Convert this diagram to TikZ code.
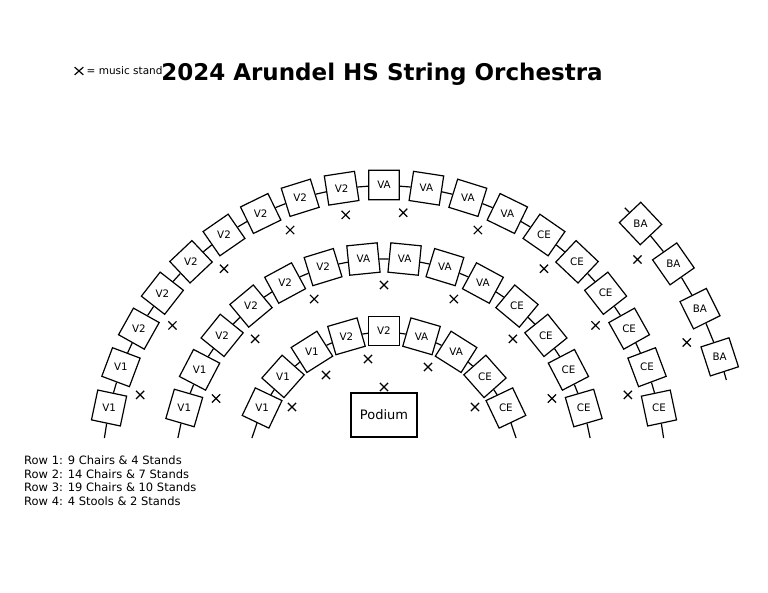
\documentclass[tikz,border=0pt]{standalone}
\usepackage{fontspec}
\setmainfont{DejaVu Sans}
\usetikzlibrary{shapes.misc}
\begin{document}
\begin{tikzpicture}[x=1pt,y=1pt,
  chair/.style={draw, line width=1.2pt, fill=white, rectangle, minimum width=30.5pt, minimum height=29.5pt, inner sep=0pt},
  chairlbl/.style={font=\fontsize{10.3}{12}\selectfont, inner sep=0pt},
  conn/.style={line width=1.2pt},
  stand/.style={cross out, draw, line width=1.2pt, minimum size=7pt, inner sep=0pt},
  legendtxt/.style={font=\fontsize{11.5}{13.8}\selectfont, inner sep=0pt, anchor=base west},
  titletxt/.style={font=\fontsize{23}{27}\selectfont\bfseries, inner sep=0pt, anchor=base},
  podiumbox/.style={draw, line width=1.2pt, minimum width=66pt, minimum height=44pt, inner sep=0pt, font=\fontsize{13}{15}\selectfont}
]
\fill[white] (-384,-127) rectangle (384,466);
\useasboundingbox (-384,-127) rectangle (384,466);

% Title and key
\node[titletxt] (title) at (-2,385) {2024 Arundel HS String Orchestra};
\node[stand, minimum width=7.5pt, minimum height=6.5pt] (keyx) at (-305,395) {};
\node[font=\fontsize{10.5}{12}\selectfont, inner sep=0pt, anchor=base west] (keytxt) at (-297.5,391) {= music stand};

% Podium
\node[podiumbox] (podium) at (0,51) {Podium};
\node[stand] (sp) at (0,79) {};

% Row 1
\foreach \lbl [count=\k from 0] in {V1,V1,V1,V2,V2,VA,VA,CE,CE} {
  \pgfmathsetmacro\ang{154.56-16.14*\k}
  \node[chair, rotate=\ang-90] (r1c\k) at (\ang:135) {};
  \node[chairlbl] (r1t\k) at (r1c\k) {\lbl};
}
\foreach \k in {1,...,8} {
  \pgfmathtruncatemacro\p{\k-1}
  \draw[conn] (r1c\p) -- (r1c\k);
}
\coordinate (r1L) at ({180-asin(28/135)}:135);
\coordinate (r1R) at ({asin(28/135)}:135);
\draw[conn] (r1c0) -- (r1L);
\draw[conn] (r1c8) -- (r1R);

% Row 2
\foreach \lbl [count=\k from 0] in {V1,V1,V2,V2,V2,V2,VA,VA,VA,VA,CE,CE,CE,CE} {
  \pgfmathsetmacro\ang{163.81-11.356*\k}
  \node[chair, rotate=\ang-90] (r2c\k) at (\ang:208) {};
  \node[chairlbl] (r2t\k) at (r2c\k) {\lbl};
}
\foreach \k in {1,...,13} {
  \pgfmathtruncatemacro\p{\k-1}
  \draw[conn] (r2c\p) -- (r2c\k);
}
\coordinate (r2L) at ({180-asin(28/208)}:208);
\coordinate (r2R) at ({asin(28/208)}:208);
\draw[conn] (r2c0) -- (r2L);
\draw[conn] (r2c13) -- (r2R);

% Row 3
\foreach \lbl [count=\k from 0] in {V1,V1,V2,V2,V2,V2,V2,V2,V2,VA,VA,VA,VA,CE,CE,CE,CE,CE,CE} {
  \pgfmathsetmacro\ang{168.09-8.677*\k}
  \node[chair, rotate=\ang-90] (r3c\k) at (\ang:281) {};
  \node[chairlbl] (r3t\k) at (r3c\k) {\lbl};
}
\foreach \k in {1,...,18} {
  \pgfmathtruncatemacro\p{\k-1}
  \draw[conn] (r3c\p) -- (r3c\k);
}
\coordinate (r3L) at ({180-asin(28/281)}:281);
\coordinate (r3R) at ({asin(28/281)}:281);
\draw[conn] (r3c0) -- (r3L);
\draw[conn] (r3c18) -- (r3R);

% Row 4 (basses)
\foreach \lbl [count=\k from 0] in {BA,BA,BA,BA} {
  \pgfmathsetmacro\ang{43.39-8.46*\k}
  \node[chair, rotate=\ang-90] (r4c\k) at (\ang:353) {};
  \node[chairlbl] (r4t\k) at (r4c\k) {\lbl};
}
\foreach \k in {1,...,3} {
  \pgfmathtruncatemacro\p{\k-1}
  \draw[conn] (r4c\p) -- (r4c\k);
}
\coordinate (r4T) at (47.0:353);
\coordinate (r4B) at (14.1:353);
\draw[conn] (r4c0) -- (r4T);
\draw[conn] (r4c3) -- (r4B);

% Stands
\node[stand] (s1a) at (-92,59) {};
\node[stand] (s1b) at (-58,91) {};
\node[stand] (s1c) at (-16,107) {};
\node[stand] (s1d) at (44,99) {};
\node[stand] (s1e) at (91,59) {};
\foreach \ang [count=\k] in {158.1,135.4,112.7,90,67.3,44.6,21.9} {
  \node[stand] (s2n\k) at (\ang:181) {};
}
\foreach \ang [count=\k] in {163.75,146.40,129.04,111.69,98.67,85.66,68.31,50.96,33.61,16.26} {
  \node[stand] (s3n\k) at (\ang:254) {};
}
\foreach \ang [count=\k] in {39.17,22.2} {
  \node[stand] (s4n\k) at (\ang:327) {};
}

% Legend
\node[legendtxt] (leg1) at (-360,1) {Row 1: 9 Chairs \& 4 Stands};
\node[legendtxt] (leg2) at (-360,-12.5) {Row 2: 14 Chairs \& 7 Stands};
\node[legendtxt] (leg3) at (-360,-26) {Row 3: 19 Chairs \& 10 Stands};
\node[legendtxt] (leg4) at (-360,-39.5) {Row 4: 4 Stools \& 2 Stands};
\end{tikzpicture}
\end{document}
